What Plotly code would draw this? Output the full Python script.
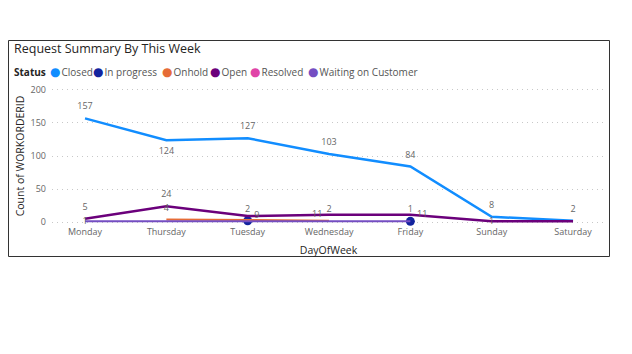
import plotly.graph_objects as go

days = ["Monday", "Thursday", "Tuesday", "Wednesday", "Friday", "Sunday", "Saturday"]
closed = [157, 124, 127, 103, 84, 8, 2]
in_progress = [None, None, 2, None, 1, None, None]
onhold = [None, 4, 3, 2, None, None, None]
open_ = [5, 24, 9, 11, 11, 1, 1]
resolved = [None, None, None, None, None, None, None]
waiting = [1, 1, 1, 1, 1, None, None]

statuses = ["Closed", "In progress", "Onhold", "Open", "Resolved", "Waiting on Customer"]
colors = ["#118DFF", "#12239E", "#E66C37", "#6B007B", "#E044A7", "#744EC2"]
y_ticks = [0, 50, 100, 150, 200]

W, H = 632, 354
L, R, T, B = 52, 605, 87, 225


def px(x):
    return (x - L) / (R - L)


def py(y):
    return (B - y) / (B - T)


def labels(vals, show):
    return ["" if (v is None or i not in show) else str(v) for i, v in enumerate(vals)]


def isolated(vals, i):
    return vals[i] is not None and (i == 0 or vals[i - 1] is None) and (i == len(vals) - 1 or vals[i + 1] is None)


fig = go.Figure()
label_font = dict(family="Open Sans", size=9, color="#666666")

series = [
    (closed, 0, 2.5, labels(closed, range(7)),
     ["top center", "bottom center", "top center", "top center", "top center", "top center", "top center"]),
    (in_progress, 1, 2, labels(in_progress, [2, 4]), "top center"),
    (onhold, 2, 2, labels(onhold, [1, 3]), "top center"),
    (open_, 3, 2.5, labels(open_, [0, 1, 2, 3, 4, 5]),
     ["top center", "top center", "middle right", "middle left", "middle right", "middle center", "top center"]),
    (resolved, 4, 2, labels(resolved, []), "top center"),
    (waiting, 5, 2, labels(waiting, [0]), "middle center"),
]

# lines and markers
for vals, ci, lw, txt, tpos in series:
    fig.add_trace(go.Scatter(
        x=days, y=vals, name=statuses[ci], mode="lines+markers",
        line=dict(color=colors[ci], width=lw),
        marker=dict(size=9,
                    color=[colors[ci] if isolated(vals, i) else "rgba(0,0,0,0)" for i in range(len(vals))],
                    line=dict(width=0)),
        cliponaxis=False, showlegend=False, hoverinfo="x+y+name",
    ))

# data labels drawn above all lines
for vals, ci, lw, txt, tpos in series:
    fig.add_trace(go.Scatter(
        x=days, y=vals, name=statuses[ci], mode="markers+text",
        marker=dict(size=9, color="rgba(0,0,0,0)", line=dict(width=0)),
        text=txt, textposition=tpos, textfont=label_font,
        cliponaxis=False, showlegend=False, hoverinfo="skip",
    ))

# legend as text
legend_items = [("Closed", 48), ("In progress", 91), ("Onhold", 160), ("Open", 208), ("Resolved", 248), ("Waiting on Customer", 306)]
annotations = [dict(x=px(12), y=py(72), xref="paper", yref="paper", xanchor="left", yanchor="middle",
                    text="<b>Status</b>", showarrow=False, font=dict(family="Open Sans", size=10, color="#252423"))]
for (name, x0), col in zip(legend_items, colors):
    annotations.append(dict(
        x=px(x0), y=py(72), xref="paper", yref="paper", xanchor="left", yanchor="middle",
        text=f"<span style='color:{col};font-family:DejaVu Sans;font-size:12px'>●</span><span style='font-size:4px'> </span>{name}",
        showarrow=False, font=dict(family="Open Sans", size=10, color="#555555")))

annotations.append(dict(x=px(12), y=py(48), xref="paper", yref="paper", xanchor="left", yanchor="middle",
                        text="Request Summary By This Week", showarrow=False,
                        font=dict(family="Open Sans", size=12.5, color="#252423")))

fig.update_layout(
    width=W, height=H,
    margin=dict(l=L, r=W - R, t=T, b=H - B),
    paper_bgcolor="white", plot_bgcolor="white",
    annotations=annotations,
    hovermode="closest",
    shapes=[dict(type="rect", xref="paper", yref="paper", x0=px(8.5), x1=px(609.5), y0=py(256.5), y1=py(40.5),
                 line=dict(color="#333333", width=1))],
    xaxis=dict(type="category", categoryorder="array", categoryarray=days,
               range=[-0.406, 6.393], showgrid=False, zeroline=False, showline=False,
               tickfont=dict(family="Open Sans", size=9, color="#666666"),
               title=dict(text="DayOfWeek", font=dict(family="Open Sans", size=10.5, color="#252423"), standoff=9)),
    yaxis=dict(range=[-4.5, 204.5], tickvals=y_ticks, showgrid=True, gridcolor="#C8C8C8", griddash="1px,4px",
               gridwidth=1, zeroline=False, showline=False, ticklabelstandoff=5,
               tickfont=dict(family="Open Sans", size=9, color="#666666"),
               title=dict(text="Count of WORKORDERID", font=dict(family="Open Sans", size=10.5, color="#252423"), standoff=3)),
)

fig.write_html("out.html")
